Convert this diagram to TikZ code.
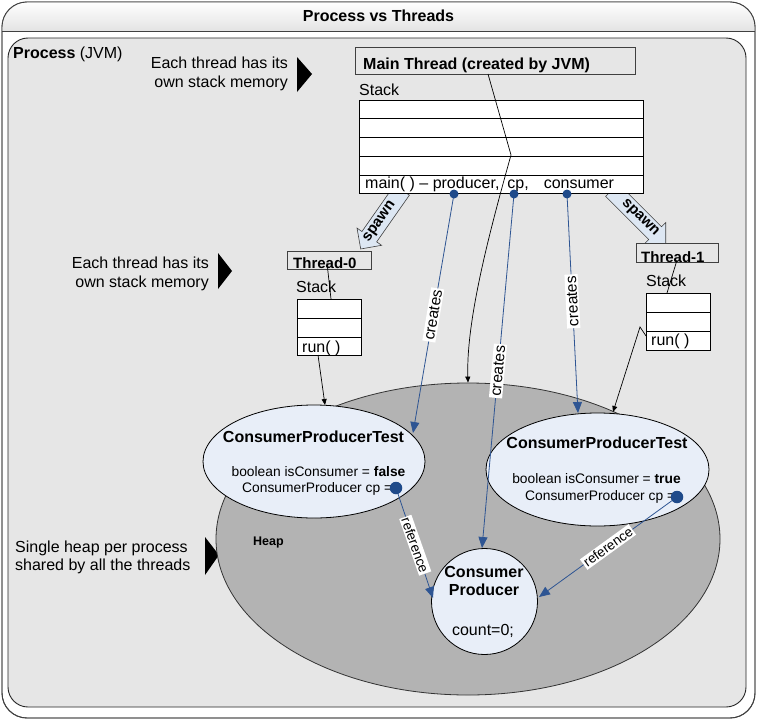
\documentclass[tikz,border=0pt]{standalone}
\usepackage{fontspec}
\setmainfont{Liberation Sans}
\usetikzlibrary{arrows.meta,shapes.geometric}
\definecolor{bgc}{HTML}{E6E6E6}
\definecolor{heapc}{HTML}{B3B3B3}
\definecolor{cpc}{HTML}{E8EEF8}
\definecolor{spawnc}{HTML}{DDE7F3}
\definecolor{bluec}{HTML}{2E5593}
\definecolor{dotc}{HTML}{1F4A8A}
\definecolor{framec}{HTML}{404040}
\begin{document}
\begin{tikzpicture}[x=1pt,y=-1pt,
  t16/.style={font=\fontsize{16}{19}\selectfont, inner sep=0},
  b16/.style={font=\fontsize{16}{19}\selectfont\bfseries, inner sep=0},
  b15/.style={font=\fontsize{15}{18}\selectfont\bfseries, inner sep=0},
  t14/.style={font=\fontsize{13.8}{17}\selectfont, inner sep=0},
  cell/.style={draw=black, line width=0.8pt, fill=white},
  hdr/.style={draw=framec, line width=0.9pt, fill=bgc, inner sep=0},
  blk/.style={draw=black, line width=0.7pt, -{Triangle[length=6pt,width=5pt]}},
  blu/.style={draw=bluec, line width=0.8pt, -{Triangle[length=11pt,width=9pt]}},
  lab/.style={fill=white, inner sep=1.5pt, font=\fontsize{15.5}{18}\selectfont},
  rlab/.style={fill=white, inner sep=1.5pt, font=\fontsize{13.5}{16}\selectfont},
  dotsm/.style={circle, fill=dotc, inner sep=0, minimum size=9pt},
  dotlg/.style={circle, fill=dotc, inner sep=0, minimum size=12.5pt},
  spw/.style={draw=framec, line width=0.6pt, fill=spawnc},
  spwtxt/.style={font=\fontsize{15}{18}\selectfont\bfseries, inner sep=0}
]
\useasboundingbox (0,0) rectangle (757,720);

% outer frame and title bar
\draw[framec, line width=0.9pt, fill=white, rounded corners=25] (2,2) rectangle (755,718);
\begin{scope}
  \clip[rounded corners=25] (2,2) rectangle (755,718);
  \shade[top color=white, bottom color=gray!22] (2,2) rectangle (755,31);
\end{scope}
\draw[framec, line width=0.9pt, rounded corners=25] (2,2) rectangle (755,718);
\draw[framec, line width=0.9pt] (2,31) -- (755,31);
\node[b16] (title) at (378.5,16) {Process vs Threads};

% inner process frame
\draw[draw=black!85, line width=0.9pt, fill=bgc, rounded corners=20] (8,38) rectangle (746,707);
\node[t16, anchor=base west] (proc) at (13,58) {\textbf{Process} (JVM)};

% side notes
\node[t16, anchor=base east] (n1a) at (288,68) {Each thread has its};
\node[t16, anchor=base east] (n1b) at (288,87) {own stack memory};
\fill (297,57) -- (312,74) -- (297,92) -- cycle;
\node[t16, anchor=base east] (n2a) at (209,268) {Each thread has its};
\node[t16, anchor=base east] (n2b) at (209,287) {own stack memory};
\fill (218,253) -- (232,271) -- (218,289) -- cycle;
\node[t16, anchor=base west] (n3a) at (15,552) {Single heap per process};
\node[t16, anchor=base west] (n3b) at (15,570) {shared by all the threads};
\fill (205,537) -- (219,555) -- (205,575) -- cycle;

% heap
\node[ellipse, draw=black!80, line width=0.8pt, fill=heapc, minimum width=504, minimum height=312, inner sep=0] (heap) at (468,539) {};
\node[anchor=base west, font=\fontsize{12.5}{15}\selectfont\bfseries, inner sep=0] (heaplbl) at (253,545) {Heap};

% objects
\node[ellipse, draw=black, line width=0.8pt, fill=cpc, minimum width=222, minimum height=113, inner sep=0] (cpt1) at (314,461.5) {};
\node[b16, anchor=base] (cpt1t) at (313.5,442) {ConsumerProducerTest};
\node[t14, anchor=base] (cpt1a) at (318.5,476) {boolean isConsumer = \textbf{false}};
\node[t14, anchor=base west] (cpt1b) at (242,492) {ConsumerProducer cp =};

\node[ellipse, draw=black, line width=0.8pt, fill=cpc, minimum width=223, minimum height=113, inner sep=0] (cpt2) at (597.5,469.5) {};
\node[b16, anchor=base] (cpt2t) at (597,448) {ConsumerProducerTest};
\node[t14, anchor=base] (cpt2a) at (596.5,483) {boolean isConsumer = \textbf{true}};
\node[t14, anchor=base west] (cpt2b) at (525,500) {ConsumerProducer cp =};

\node[circle, draw=black, line width=0.8pt, fill=cpc, minimum size=106, inner sep=0] (cp) at (484.5,601.5) {};
\node[b16, anchor=base] (cpa) at (484,577) {Consumer};
\node[b16, anchor=base] (cpb) at (484,595) {Producer};
\node[t16, anchor=base] (cpc) at (483,635) {count=0;};

% spawn arrows
\begin{scope}[shift={(402,190)}, rotate=235]
  \draw[spw] (0,-9) -- (57,-9) -- (57,-15) -- (72,0) -- (57,15) -- (57,9) -- (0,9) -- cycle;
\end{scope}
\node[spwtxt, rotate=55] (spawnL) at (380,222) {spawn};
\begin{scope}[shift={(612,190)}, rotate=-45]
  \draw[spw] (0,-9) -- (61,-9) -- (61,-15) -- (76,0) -- (61,15) -- (61,9) -- (0,9) -- cycle;
\end{scope}
\node[spwtxt, rotate=-45] (spawnR) at (640,218) {spawn};

% main thread
\node[hdr, minimum width=280, minimum height=27, anchor=north west] (mainbox) at (355,47) {};
\node[b16, anchor=base west] (maintxt) at (363,69) {Main Thread (created by JVM)};
\node[t16, anchor=base west] (stk0) at (359,95) {Stack};
\draw[cell] (359,100) rectangle (643,193);
\foreach \yy in {118,137,156,175} \draw[line width=0.8pt] (359,\yy) -- (643,\yy);
\node[t16, anchor=base west] (mainrow) at (365,188) {main( ) – producer,\hspace{8pt}cp,\hspace{15pt}consumer};

% thread-0
\node[hdr, minimum width=84, minimum height=18, anchor=north west] (t0box) at (287,251) {};
\node[b15, anchor=base west] (t0txt) at (293,268) {Thread-0};
\node[t16, anchor=base west] (stk1) at (296,292) {Stack};
\draw[cell] (297,299) rectangle (361,355);
\foreach \yy in {318,337} \draw[line width=0.8pt] (297,\yy) -- (361,\yy);
\node[t16, anchor=base west] (run0) at (302,352) {run( )};

% thread-1
\node[hdr, minimum width=82, minimum height=19, anchor=north west] (t1box) at (636,243) {};
\node[b15, anchor=base west] (t1txt) at (641,262) {Thread-1};
\node[t16, anchor=base west] (stk2) at (646,286) {Stack};
\draw[cell] (646,293) rectangle (710,350);
\foreach \yy in {312,331} \draw[line width=0.8pt] (646,\yy) -- (710,\yy);
\node[t16, anchor=base west] (run1) at (651,345) {run( )};

% black connectors
\coordinate (m0) at (488,74);
\coordinate (m1) at (511,155);
\draw[blk] (m0) -- (m1) .. controls (490,230) and (466,320) .. (heap.north);
\coordinate (a0) at (327,263);
\coordinate (a1) at (331,299);
\draw[line width=0.7pt] (a0) -- (a1);
\coordinate (a2) at (318,355);
\coordinate (a3) at (325,405);
\draw[blk] (a2) -- (a3);
\coordinate (b0) at (677,260);
\coordinate (b1) at (667,293);
\draw[line width=0.7pt] (b0) -- (b1);
\coordinate (b2) at (646,336);
\coordinate (b3) at (640,327);
\coordinate (b4) at (613,412);
\draw[blk] (b2) -- (b3) -- (b4);

% blue connectors
\coordinate (d1) at (454,194);
\coordinate (d2) at (514,194);
\coordinate (d3) at (567,194);
\coordinate (d4) at (396,488);
\coordinate (d5) at (677,497);
\coordinate (e1) at (413,433);
\coordinate (e2) at (482,548);
\coordinate (e3) at (578,413);
\coordinate (e4) at (433,598);
\coordinate (e5) at (539,597);
\draw[blu] (d1) -- node[lab, rotate=80.5, pos=0.506] (c1) {creates} (e1);
\draw[blu] (d2) -- node[lab, rotate=84.7, pos=0.5] (c2) {creates} (e2);
\draw[blu] (d3) -- node[lab, rotate=93, pos=0.49] (c3) {creates} (e3);
\draw[blu] (d4) -- node[rlab, rotate=-70.6, pos=0.52] (r1) {reference} (e4);
\draw[blu] (d5) -- node[rlab, rotate=35.9, pos=0.5] (r2) {reference} (e5);
\node[dotsm] (dd1) at (d1) {};
\node[dotsm] (dd2) at (d2) {};
\node[dotsm] (dd3) at (d3) {};
\node[dotlg] (dd4) at (d4) {};
\node[dotlg] (dd5) at (d5) {};
\end{tikzpicture}
\end{document}
